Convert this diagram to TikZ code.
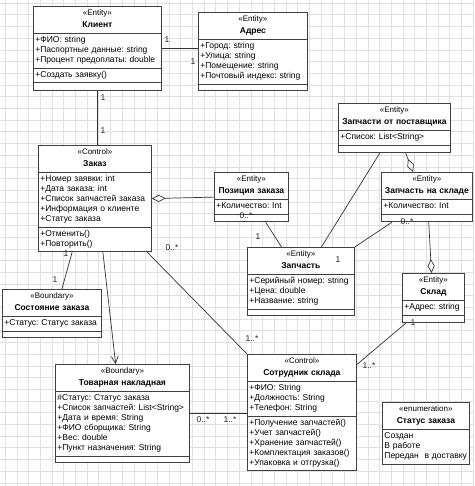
\documentclass[tikz,border=0pt]{standalone}
\usepackage{fontspec}
\setmainfont{Liberation Sans}
\usetikzlibrary{shapes.multipart, arrows.meta, calc}

% class header: stereotype and name
\newcommand{\hdr}[2]{\hbox to\hsize{\hfil\strut{\fontsize{8}{10}\selectfont«#1»}\hfil}\vskip2pt\hbox to\hsize{\hfil\strut\textbf{#2}\hfil}}

\begin{document}
\begin{tikzpicture}[x=1pt, y=-1pt]

    % Classes
    \tikzset{cls/.style={draw=black!75, line width=0.8pt, fill=white, rectangle split, rectangle split parts=#1, anchor=north west, inner xsep=2pt, inner ysep=2pt, align=left, font=\fontsize{8.5}{10}\selectfont\frenchspacing}}

    % Multiplicities
    \tikzset{lbl/.style={inner sep=0pt, font=\fontsize{8.5}{10}\selectfont, text=black!85}}

    % Connectors
    \tikzset{assoc/.style={draw=black!80, line width=0.7pt}}
    \tikzset{aggr/.style={assoc, -{Diamond[open, length=14pt, width=7pt]}}}
    \tikzset{dep/.style={assoc, -{Straight Barb[length=7pt, width=7pt]}}}
    \tikzset{gridline/.style={draw=black!12, line width=0.4pt}}

    % Background grid
    \useasboundingbox (0,0) rectangle (474,486);
    \fill[white] (0,0) rectangle (474,486);
    \foreach \gx in {5,16.7,...,474} \draw[gridline] (\gx,0) -- (\gx,486);
    \foreach \gy in {3,14.7,...,486} \draw[gridline] (0,\gy) -- (474,\gy);

    % Class nodes
    \node (klient) [cls=4, text width=124pt] at (33,6) {\hdr{Entity}{Клиент}
        \nodepart{two}\strut+ФИО: string\\+Паспортные данные: string\\+Процент предоплаты: double\strut
        \nodepart{three}\strut+Создать заявку()\strut
        \nodepart{four}\rule{0pt}{3pt}};
    \node (adres) [cls=3, text width=105pt] at (198,12) {\hdr{Entity}{Адрес}
        \nodepart{two}\strut+Город: string\\+Улица: string\\+Помещение: string\\+Почтовый индекс: string\strut
        \nodepart{three}\rule{0pt}{2pt}};
    \node (zakaz) [cls=3, text width=109pt] at (38,145) {\hdr{Control}{Заказ}
        \nodepart{two}\strut+Номер заявки: int\\+Дата заказа: int\\+Список запчастей заказа\\+Информация о клиенте\\+Статус заказа\strut
        \nodepart{three}\strut+Отменить()\\+Повторить()\strut};
    \node (pozicia) [cls=3, text width=70pt] at (214,172) {\hdr{Entity}{Позиция заказа}
        \nodepart{two}\strut+Количество: Int\strut
        \nodepart{three}\rule{0pt}{3pt}};
    \node (postav) [cls=3, text width=108pt] at (338,103) {\hdr{Entity}{Запчасти от поставщика}
        \nodepart{two}\strut+Список: List<String>\strut
        \nodepart{three}\rule{0pt}{3pt}};
    \node (nasklade) [cls=3, text width=87pt] at (381,172) {\hdr{Entity}{Запчасть на складе}
        \nodepart{two}\strut+Количество: Int\strut
        \nodepart{three}\rule{0pt}{3pt}};
    \node (zapchast) [cls=3, text width=103pt] at (247,247) {\hdr{Entity}{Запчасть}
        \nodepart{two}\strut+Серийный номер: string\\+Цена: double\\+Название: string\strut
        \nodepart{three}\rule{0pt}{2pt}};
    \node (sklad) [cls=3, text width=58pt] at (402,273) {\hdr{Entity}{Склад}
        \nodepart{two}\strut+Адрес: string\strut
        \nodepart{three}\rule{0pt}{3pt}};
    \node (sostoyanie) [cls=3, text width=95pt] at (2,289) {\hdr{Boundary}{Состояние заказа}
        \nodepart{two}\strut+Статус: Статус заказа\strut
        \nodepart{three}\rule{0pt}{2pt}};
    \node (tovar) [cls=3, text width=130pt] at (55,364) {\hdr{Boundary}{Товарная накладная}
        \nodepart{two}\strut\#Статус: Статус заказа\\+Список запчастей: List<String>\\+Дата и время: String\\+ФИО сборщика: String\\+Вес: double\\+Пункт назначения: String\strut
        \nodepart{three}\rule{0pt}{2pt}};
    \node (sotrudnik) [cls=3, text width=105pt] at (247,354) {\hdr{Control}{Сотрудник склада}
        \nodepart{two}\strut+ФИО: String\\+Должность: String\\+Телефон: String\strut
        \nodepart{three}\strut+Получение запчастей()\\+Учет запчастей()\\+Хранение запчастей()\\+Комплектация заказов()\\+Упаковка и отгрузка()\strut};
    \node (status) [cls=2, text width=83pt] at (382,402) {\hdr{enumeration}{Статус заказа}
        \nodepart{two}\strut Создан\\В работе\\Передан\ \ в доставку\strut};

    % Connectors
    \draw[assoc] (klient.east) -- (klient.east -| adres.west);
    \draw[assoc] (klient.south) -- (klient.south |- zakaz.north);
    \draw[aggr] (pozicia.west) -- (zakaz.east);
    \draw[assoc] ($(pozicia.south west)!.69!(pozicia.south east)$) -- ($(zapchast.north west)!.32!(zapchast.north east)$);
    \draw[assoc] ($(postav.south west)!.37!(postav.south east)$) -- ($(zapchast.north west)!.69!(zapchast.north east)$);
    \draw[aggr] ($(postav.south west)!.6!(postav.south east)$) -- ($(nasklade.north west)!.35!(nasklade.north east)$);
    \draw[assoc] ($(nasklade.south west)!.12!(nasklade.south east)$) -- (zapchast.north east);
    \draw[aggr] ($(nasklade.south west)!.52!(nasklade.south east)$) -- ($(sklad.north west)!.47!(sklad.north east)$);
    \draw[assoc] ($(zakaz.south west)!.3!(zakaz.south east)$) -- ($(sostoyanie.north west)!.6!(sostoyanie.north east)$);
    \draw[dep] ($(zakaz.south west)!.57!(zakaz.south east)$) -- ($(tovar.north west)!.45!(tovar.north east)$);
    \draw[assoc] ($(zakaz.south west)!.96!(zakaz.south east)$) -- (sotrudnik.north west);
    \draw[assoc] ($(sklad.south west)!.06!(sklad.south east)$) -- ($(sotrudnik.north east)!.09!(sotrudnik.south east)$);
    \draw[assoc] (tovar.east) -- (tovar.east -| sotrudnik.west);

    % Multiplicities
    \node (mKlAd) [lbl] at (167,40) {1};
    \node (mAdKl) [lbl] at (193,62) {1};
    \node (mKlZa) [lbl] at (103,98) {1};
    \node (mZaKl) [lbl] at (103,131) {1};
    \node (mPoZa) [lbl] at (246,216) {0..*};
    \node (mZaPo) [lbl] at (258,237) {1};
    \node (mZpPs) [lbl] at (338,260) {1};
    \node (mNsZp) [lbl] at (407,222) {0..*};
    \node (mZaSo) [lbl] at (172,248) {0..*};
    \node (mZaSt) [lbl] at (66,254) {1};
    \node (mStZa) [lbl] at (55,280) {1};
    \node (mSoZa) [lbl] at (252,339) {1..*};
    \node (mSkSo) [lbl] at (413,323) {1};
    \node (mSoSk) [lbl] at (369,366) {1..*};
    \node (mTvSo) [lbl] at (203,420) {0..*};
    \node (mSoTv) [lbl] at (230,420) {1..*};

\end{tikzpicture}
\end{document}
